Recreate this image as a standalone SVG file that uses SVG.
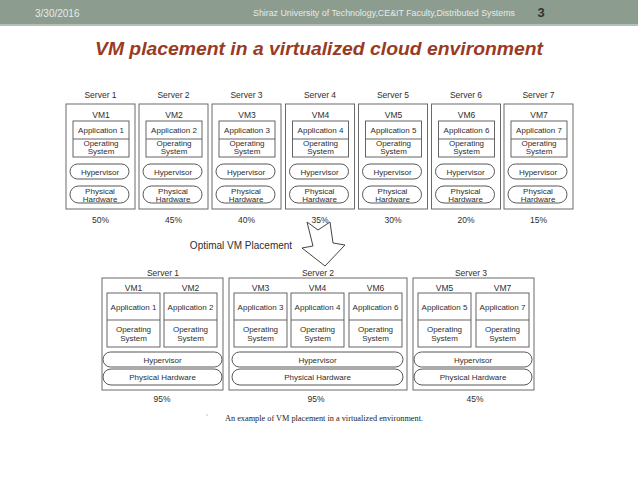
<svg xmlns="http://www.w3.org/2000/svg" width="638" height="479" viewBox="0 0 638 479">
<style>
text{font-family:"Liberation Sans",Arial,sans-serif;fill:#2e2e2e;text-anchor:middle}
.lbl{font-size:8.5px}
.sm{font-size:8px}
.box{fill:#fff;stroke:#6a6a6a;stroke-width:1}
.in{fill:#fff;stroke:#555;stroke-width:0.9}
.pill{fill:#fff;stroke:#444;stroke-width:0.9}
.hd{fill:#e6ebe6;text-anchor:start}
</style>
<rect x="0" y="0" width="638" height="479" fill="#fff"/>
<g id="header">
<rect x="0" y="0" width="638" height="24" fill="#8c9c8f"/>
<rect x="0" y="24" width="638" height="2" fill="#b4c0b6"/>
<text class="hd" x="35" y="17" font-size="10">3/30/2016</text>
<text class="hd" x="253" y="16" font-size="8.5" textLength="262" lengthAdjust="spacingAndGlyphs">Shiraz University of Technology,CE&amp;IT Faculty,Distributed Systems</text>
<text x="541" y="17" font-size="13" font-weight="bold" style="fill:#333">3</text>
</g>
<text id="title" x="319" y="55" font-size="18" font-weight="bold" font-style="italic" style="fill:#9a3a23" textLength="448" lengthAdjust="spacingAndGlyphs">VM placement in a virtualized cloud environment</text>

<defs>
<g id="top">
<rect class="box" x="0" y="104" width="69" height="105"/>
<rect class="in" x="7" y="121" width="56" height="36"/>
<line x1="7" y1="139" x2="63" y2="139" stroke="#555" stroke-width="0.9"/>
<text class="sm" x="35" y="146">Operating</text>
<text class="sm" x="35" y="154">System</text>
<rect class="pill" x="4" y="164" width="59" height="15" rx="7.5"/>
<text class="sm" x="34" y="174.5">Hypervisor</text>
<rect class="pill" x="4" y="186" width="59" height="17" rx="8.5"/>
<text class="sm" x="34" y="193.5">Physical</text>
<text class="sm" x="34" y="201.5">Hardware</text>
</g>
</defs>

<g id="server1-top" transform="translate(66,0)"><use href="#top"/><text class="lbl" x="34.5" y="98">Server 1</text><text class="lbl" x="35" y="117.5">VM1</text><text class="sm" x="35" y="133">Application 1</text><text class="lbl" x="34.5" y="222.5">50%</text></g>
<g id="server2-top" transform="translate(139,0)"><use href="#top"/><text class="lbl" x="34.5" y="98">Server 2</text><text class="lbl" x="35" y="117.5">VM2</text><text class="sm" x="35" y="133">Application 2</text><text class="lbl" x="34.5" y="222.5">45%</text></g>
<g id="server3-top" transform="translate(212,0)"><use href="#top"/><text class="lbl" x="34.5" y="98">Server 3</text><text class="lbl" x="35" y="117.5">VM3</text><text class="sm" x="35" y="133">Application 3</text><text class="lbl" x="34.5" y="222.5">40%</text></g>
<g id="server4-top" transform="translate(285.5,0)"><use href="#top"/><text class="lbl" x="34.5" y="98">Server 4</text><text class="lbl" x="35" y="117.5">VM4</text><text class="sm" x="35" y="133">Application 4</text></g>
<g id="server5-top" transform="translate(358.5,0)"><use href="#top"/><text class="lbl" x="34.5" y="98">Server 5</text><text class="lbl" x="35" y="117.5">VM5</text><text class="sm" x="35" y="133">Application 5</text><text class="lbl" x="34.5" y="222.5">30%</text></g>
<g id="server6-top" transform="translate(431.5,0)"><use href="#top"/><text class="lbl" x="34.5" y="98">Server 6</text><text class="lbl" x="35" y="117.5">VM6</text><text class="sm" x="35" y="133">Application 6</text><text class="lbl" x="34.5" y="222.5">20%</text></g>
<g id="server7-top" transform="translate(504,0)"><use href="#top"/><text class="lbl" x="34.5" y="98">Server 7</text><text class="lbl" x="35" y="117.5">VM7</text><text class="sm" x="35" y="133">Application 7</text><text class="lbl" x="34.5" y="222.5">15%</text></g>

<g id="connectors">
<polygon points="307,222 318,230 330,222 333,243 345,245 325,266 302,248 313,246" fill="#fff" stroke="#444" stroke-width="1"/>
</g>
<text class="lbl" x="320" y="222.5">35%</text>
<text id="arrow-label" x="241" y="249" font-size="10">Optimal VM Placement</text>

<defs>
<g id="vm">
<rect class="in" x="0" y="293" width="53" height="54"/>
<line x1="0" y1="320" x2="53" y2="320" stroke="#555" stroke-width="0.9"/>
<text class="sm" x="26.5" y="332">Operating</text>
<text class="sm" x="26.5" y="341">System</text>
</g>
</defs>

<g id="server1-bottom">
<rect class="box" x="102" y="278" width="121" height="112"/>
<text class="lbl" x="163" y="275.5">Server 1</text>
<g transform="translate(107,0)"><use href="#vm"/><text class="lbl" x="26.5" y="290.5">VM1</text><text class="sm" x="26.5" y="310">Application 1</text></g>
<g transform="translate(164,0)"><use href="#vm"/><text class="lbl" x="26.5" y="290.5">VM2</text><text class="sm" x="26.5" y="310">Application 2</text></g>
<rect class="pill" x="103" y="352" width="119" height="15" rx="7.5"/>
<text class="sm" x="162.5" y="362.5">Hypervisor</text>
<rect class="pill" x="103" y="369" width="119" height="16" rx="8"/>
<text class="sm" x="162.5" y="380">Physical Hardware</text>
<text class="lbl" x="162" y="401.5">95%</text>
</g>

<g id="server2-bottom">
<rect class="box" x="229" y="278" width="178" height="112"/>
<text class="lbl" x="318" y="275.5">Server 2</text>
<g transform="translate(234,0)"><use href="#vm"/><text class="lbl" x="26.5" y="290.5">VM3</text><text class="sm" x="26.5" y="310">Application 3</text></g>
<g transform="translate(291,0)"><use href="#vm"/><text class="lbl" x="26.5" y="290.5">VM4</text><text class="sm" x="26.5" y="310">Application 4</text></g>
<g transform="translate(349,0)"><use href="#vm"/><text class="lbl" x="26.5" y="290.5">VM6</text><text class="sm" x="26.5" y="310">Application 6</text></g>
<rect class="pill" x="232" y="352" width="171" height="15" rx="7.5"/>
<text class="sm" x="317.5" y="362.5">Hypervisor</text>
<rect class="pill" x="232" y="369" width="171" height="16" rx="8"/>
<text class="sm" x="317.5" y="380">Physical Hardware</text>
<text class="lbl" x="316" y="401.5">95%</text>
</g>

<g id="server3-bottom">
<rect class="box" x="413" y="278" width="121" height="112"/>
<text class="lbl" x="471" y="275.5">Server 3</text>
<g transform="translate(418,0)"><use href="#vm"/><text class="lbl" x="26.5" y="290.5">VM5</text><text class="sm" x="26.5" y="310">Application 5</text></g>
<g transform="translate(476,0)"><use href="#vm"/><text class="lbl" x="26.5" y="290.5">VM7</text><text class="sm" x="26.5" y="310">Application 7</text></g>
<rect class="pill" x="414" y="352" width="118" height="15" rx="7.5"/>
<text class="sm" x="473" y="362.5">Hypervisor</text>
<rect class="pill" x="414" y="369" width="118" height="16" rx="8"/>
<text class="sm" x="473" y="380">Physical Hardware</text>
<text class="lbl" x="475" y="401.5">45%</text>
</g>

<circle cx="207" cy="415" r="0.7" fill="#aaa"/>
<text id="caption" x="225" y="421" font-size="8.5" style="font-family:'Liberation Serif','Times New Roman',serif;text-anchor:start;fill:#222" textLength="198" lengthAdjust="spacingAndGlyphs">An example of VM placement in a virtualized environment.</text>
</svg>
